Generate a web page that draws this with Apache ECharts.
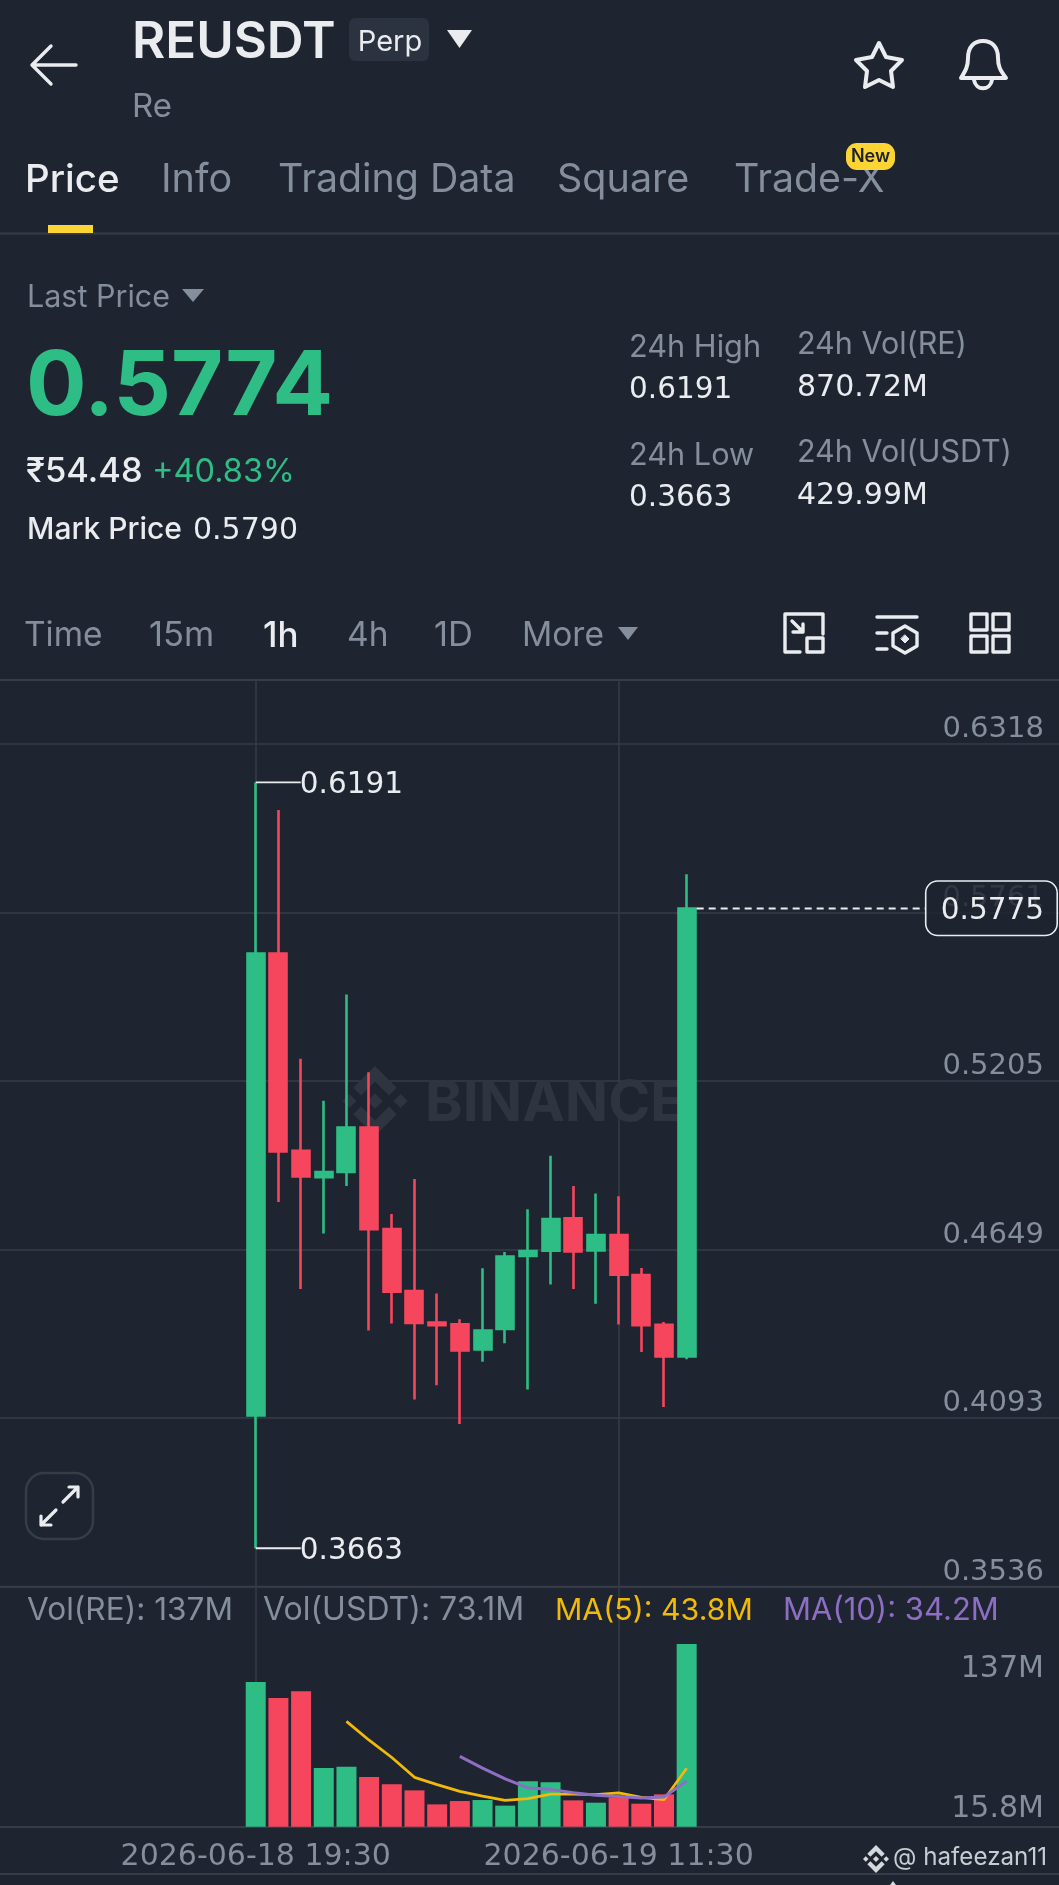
<!DOCTYPE html>
<html><head><meta charset="utf-8">
<style>html,body{margin:0;padding:0;background:#1e2530}#c{width:1059px;height:1885px}</style>
<script src="https://cdn.jsdelivr.net/npm/echarts@6/dist/echarts.min.js"></script>
</head><body><div id="c"></div>
<script>
const times = ['2026-06-18 19:30','2026-06-18 20:30','2026-06-18 21:30','2026-06-18 22:30','2026-06-18 23:30','2026-06-19 00:30','2026-06-19 01:30','2026-06-19 02:30','2026-06-19 03:30','2026-06-19 04:30','2026-06-19 05:30','2026-06-19 06:30','2026-06-19 07:30','2026-06-19 08:30','2026-06-19 09:30','2026-06-19 10:30','2026-06-19 11:30','2026-06-19 12:30','2026-06-19 13:30','2026-06-19 14:30'];
const opens  = [.4101,.5626,.4975,.4888,.4905,.5052,.4717,.4512,.4408,.4402,.4319,.4387,.4628,.4645,.4752,.4646,.4697,.4565,.4401,.4296];
const closes = [.5626,.4973,.4890,.4905,.5052,.4716,.4510,.4407,.4399,.4316,.4382,.4626,.4644,.4750,.4643,.4697,.4566,.4399,.4296,.5775];
const lows   = [.3663,.4806,.4519,.4702,.4859,.4382,.4405,.4154,.4201,.4073,.4279,.4340,.4187,.4534,.4519,.4470,.4402,.4311,.4129,.4287];
const highs  = [.6191,.6100,.5279,.5140,.5491,.5234,.4766,.4882,.4504,.4419,.4587,.4641,.4782,.4959,.4859,.4834,.4825,.4588,.4410,.5888];
const volumes = [108.5,96.5,101.5,44,45,37.25,31.75,27.25,16.75,19.25,20,15.8,34,33.25,19.75,18,22,17.25,24.25,137];
const ma5Values  = [79,64.85,51.9,37.05,31.6,26.45,23,19.8,21.1,24.4,24.5,24.1,25.4,22.05,20.25,43.8];
const ma10Values = [52.8,43.95,35.85,29.1,28,25.5,23.6,22.6,21.6,22.35,34.2];
const priceTicks = [0.3536,0.4093,0.4649,0.5205,0.5761,0.6318];
const volumeTicks = [15.8,137];
const axisDates = ['2026-06-18 19:30','2026-06-19 11:30'];
const lastPrice = 0.5775, peakHigh = 0.6191, peakLow = 0.3663;

const BG='#1e2530',GRID='#363c48',GRAY='#848e9c',WHITE='#eaecef',GREEN='#2ebd85',RED='#f6465d',YEL='#f0b90b',PUR='#8d6ec4',FONT='Inter',AF='DejaVu Sans';
const LEAD=11, TRAIL=16;
const pad=(a,fill)=>[...Array(LEAD).fill(fill),...a,...Array(TRAIL).fill(fill)];
const cats=pad(times,'');
const candle=pad(times.map((_,i)=>[opens[i],closes[i],lows[i],highs[i]]),['-','-','-','-']);
const vol=pad(volumes.map((v,i)=>({value:v,itemStyle:{color:closes[i]>=opens[i]?GREEN:RED}})),'-');
const ma5=pad([...Array(4).fill('-'),...ma5Values],'-');
const ma10=pad([...Array(9).fill('-'),...ma10Values],'-');
const showDate=(i,v)=>axisDates.includes(v);

const chart=echarts.init(document.getElementById('c'),null,{renderer:'canvas'});
const xBase=(gridIndex,extra)=>Object.assign({type:'category',gridIndex,data:cats,boundaryGap:true,axisTick:{show:false},
  splitLine:{show:true,alignWithLabel:true,interval:showDate,lineStyle:{color:GRID,width:1.5}}},extra);
chart.setOption({
  animation:false,backgroundColor:BG,
  textStyle:{fontFamily:FONT},
  grid:[{left:-5.1,width:1066,top:680,height:906.7,outerBoundsMode:'none'},{left:-5.1,width:1066,top:1586.7,height:240,outerBoundsMode:'none'}],
  xAxis:[
    xBase(0,{axisLine:{show:false},axisLabel:{show:false,interval:showDate}}),
    xBase(1,{axisLine:{show:true,lineStyle:{color:GRID,width:2}},axisLabel:{show:true,interval:showDate,color:GRAY,fontSize:30,fontFamily:AF,margin:16,hideOverlap:false}})
  ],
  yAxis:[
    {type:'value',gridIndex:0,position:'right',min:0.3536,max:0.65293,scale:true,axisLine:{show:false},
     axisTick:{show:false,customValues:priceTicks},
     axisLabel:{inside:true,margin:17,customValues:priceTicks,color:GRAY,fontSize:29,fontFamily:AF,verticalAlign:'bottom',lineHeight:29,formatter:v=>v.toFixed(4)},
     splitLine:{show:true,lineStyle:{color:GRID,width:1.5}}},
    {type:'value',gridIndex:1,position:'right',min:0,max:180,axisLine:{show:false},
     axisTick:{show:false,customValues:volumeTicks},
     axisLabel:{inside:true,margin:17,customValues:volumeTicks,color:GRAY,fontSize:30,fontFamily:AF,
       formatter:v=>v>100?'{t|137M}':'{b|15.8M}',
       rich:{t:{padding:[50,0,0,0],color:GRAY,fontSize:30,fontFamily:AF},b:{padding:[8,0,0,0],color:GRAY,fontSize:30,fontFamily:AF}}},
     splitLine:{show:false}}
  ],
  series:[
    {type:'candlestick',xAxisIndex:0,yAxisIndex:0,data:candle,barWidth:17.5,
     itemStyle:{color:GREEN,color0:RED,borderColor:GREEN,borderColor0:RED,borderWidth:2.6}},
    {type:'bar',xAxisIndex:1,yAxisIndex:1,data:vol,barWidth:20},
    {type:'line',xAxisIndex:1,yAxisIndex:1,data:ma5,symbol:'none',connectNulls:false,lineStyle:{color:YEL,width:2.8},z:4},
    {type:'line',xAxisIndex:1,yAxisIndex:1,data:ma10,symbol:'none',connectNulls:false,lineStyle:{color:PUR,width:3},z:5}
  ]
});

const t=(x,y,text,size,fill,weight,align,extra,font)=>Object.assign({type:'text',z:20,silent:true,style:{x,y,text,fontSize:size,fill:fill||GRAY,fontWeight:weight||400,fontFamily:font||FONT,align:align||'left',verticalAlign:'middle'}},extra||{});
const hline=(x1,x2,y,color,w,dash)=>({type:'line',z:20,silent:true,shape:{x1,y1:y,x2,y2:y},style:{stroke:color,lineWidth:w,lineDash:dash||null}});
const tri=(x1,x2,y1,y2,fill)=>({type:'polygon',z:20,silent:true,shape:{points:[[x1,y1],[x2,y1],[(x1+x2)/2,y2]]},style:{fill}});
let shapeId=0;
const raw=(d,color,w,fill)=>{const name='icon'+(shapeId++);echarts.graphic.registerShape(name,echarts.graphic.extendPath(d,{}));
  return {type:name,z:20,silent:true,style:{stroke:color||WHITE,lineWidth:w||3.4,fill:fill||'none',lineJoin:'round',lineCap:'round'}};};
const logo=(cx,cy,s,fill,z)=>{const P=a=>a.map(([x,y])=>[cx+x*s,cy+y*s]);const g=p=>({type:'polygon',z,silent:true,shape:{points:P(p)},style:{fill}});
  return [g([[0,-1],[.62,-.38],[.4,-.16],[0,-.56],[-.4,-.16],[-.62,-.38]]),g([[0,1],[.62,.38],[.4,.16],[0,.56],[-.4,.16],[-.62,.38]]),
    g([[0,-.22],[.22,0],[0,.22],[-.22,0]]),g([[-.73,-.2],[-.53,0],[-.73,.2],[-.93,0]]),g([[.73,-.2],[.93,0],[.73,.2],[.53,0]])];};

const P0=chart.convertToPixel({xAxisIndex:0,yAxisIndex:0},[LEAD,peakHigh]);
const P1=chart.convertToPixel({xAxisIndex:0,yAxisIndex:0},[LEAD,peakLow]);
const PL=chart.convertToPixel({xAxisIndex:0,yAxisIndex:0},[LEAD+19,lastPrice]);

chart.setOption({graphic:{elements:[
  // watermark
  ...logo(375,1101,35,'#2f3540',0),
  {type:'text',z:0,silent:true,style:{x:425,y:1104,text:'BINANCE',fontSize:57,fontWeight:700,fontFamily:FONT,fill:'#2f3540',align:'left',verticalAlign:'middle'}},
  // header
  raw('M76 65 H33 M51 46 L32 65 L51 84'),
  t(132,43,'REUSDT',51,WHITE,600),
  {type:'rect',z:19,silent:true,shape:{x:349,y:18,width:80,height:43,r:6},style:{fill:'#2b3240'}},
  t(390,42,'Perp',29,WHITE,400,'center'),
  tri(447,472,30,48,WHITE),
  t(132,107,'Re',33,GRAY),
  raw('M879 43 L886 57 L902 60 L891 71 L893 87 L879 80 L865 87 L867 71 L856 60 L872 57 Z',WHITE,4),
  raw('M961 78 C966 70 968 66 968 58 C968 47 974 41 983 41 C992 41 998 47 998 58 C998 66 1000 70 1006 78 Z M974 80 C976 91 990 91 992 80',WHITE,4),
  // tabs
  t(25,180,'Price',38.5,WHITE,500),
  t(161,180,'Info',39.5,GRAY),
  t(278,180,'Trading Data',39.3,GRAY),
  t(557,180,'Square',39.5,GRAY),
  t(734,180,'Trade-X',39.3,GRAY),
  {type:'rect',z:21,silent:true,shape:{x:846,y:143,width:49,height:27,r:11},style:{fill:'#fcd535'}},
  t(870.5,157,'New',18,'#1e2329',600,'center',{z:22}),
  {type:'rect',z:21,silent:true,shape:{x:48,y:225,width:45,height:8},style:{fill:'#fcd535'}},
  hline(0,1059,233.5,GRID,2),
  // price block
  t(27,298,'Last Price',30.5,GRAY),
  tri(182,204,289,302,GRAY),
  t(26,388,'0.5774',90,GREEN,700),
  t(26,472,'₹54.48',34.5,WHITE,500),
  t(152,472,'+40.83%',32.5,GREEN),
  t(27,530,'Mark Price',30,WHITE,500),
  t(193,531,'0.5790',30,WHITE,400,'left',null,AF),
  t(629,348,'24h High',30.7,GRAY), t(629,390,'0.6191',29.5,WHITE,400,'left',null,AF),
  t(629,456,'24h Low',30.7,GRAY),  t(629,498,'0.3663',29.5,WHITE,400,'left',null,AF),
  t(797,345,'24h Vol(RE)',30.5,GRAY), t(797,388,'870.72M',30,WHITE,400,'left',null,AF),
  t(797,453,'24h Vol(USDT)',30.5,GRAY), t(797,496,'429.99M',30,WHITE,400,'left',null,AF),
  // timeframes
  t(24,636,'Time',33.5,GRAY), t(149,636,'15m',34.5,GRAY), t(263,636,'1h',35,WHITE,500), t(347,636,'4h',33.5,GRAY), t(434,636,'1D',34.5,GRAY), t(522,636,'More',33.5,GRAY),
  tri(618,638,627,640,GRAY),
  raw('M800 652 H785 V614 H823 V634 M807 638 H823 V652 H807 Z M792 621 L803 632 M793 632 H803 V624'),
  raw('M877 617 H917 M877 633 H887 M877 649 H887 M905 626 L917 633 V646 L905 653 L893 646 V633 Z'),
  raw('M905 635 L909 639 L905 643 L901 639 Z',WHITE,1,WHITE),
  raw('M971 614 H987 V630 H971 Z M993 614 H1009 V630 H993 Z M971 636 H987 V652 H971 Z M993 636 H1009 V652 H993 Z'),
  hline(0,1059,680,GRID,2),
  // peak annotations
  hline(P0[0],P0[0]+45,P0[1],WHITE,1.8),
  t(P0[0]+44,P0[1]+3,peakHigh.toFixed(4),29.5,WHITE,400,'left',null,AF),
  hline(P1[0],P1[0]+45,P1[1],WHITE,1.8),
  t(P1[0]+44,P1[1]+3.5,peakLow.toFixed(4),29.5,WHITE,400,'left',null,AF),
  // last price tag
  hline(PL[0]+10,925,PL[1],WHITE,1.8,[7,5]),
  {type:'rect',z:21,silent:true,shape:{x:925.7,y:881,width:131.5,height:54.5,r:12},style:{fill:'rgba(30,37,48,0.82)',stroke:WHITE,lineWidth:1.6}},
  t(1044,911,lastPrice.toFixed(4),29.5,WHITE,400,'right',{z:22},AF),
  // expand button
  {type:'rect',z:20,silent:true,shape:{x:26,y:1473,width:67,height:66,r:18},style:{fill:'none',stroke:GRID,lineWidth:2.5}},
  raw('M63 1502 L78 1487 M69 1487 H78 V1497 M56 1510 L41 1525 M41 1516 V1525 H51',WHITE,3.2),
  // volume header
  hline(0,1059,1586.7,GRID,2),
  t(27,1610.5,'Vol(RE): 137M',31.6,GRAY),
  t(263,1610.5,'Vol(USDT): 73.1M',32,GRAY),
  t(555,1610.5,'MA(5): 43.8M',30.3,YEL),
  t(783,1610.5,'MA(10): 34.2M',31,PUR),
  // footer
  hline(0,1059,1874,GRID,2),
  ...logo(876,1859,14,'#d5d8dd',20),
  t(893,1858,'@ hafeezan11',24.2,'#c7ccd3'),
  {type:'polygon',z:20,silent:true,shape:{points:[[893,1881],[896,1885],[890,1885]]},style:{fill:'#d5d8dd'}}
]}});
</script></body></html>
